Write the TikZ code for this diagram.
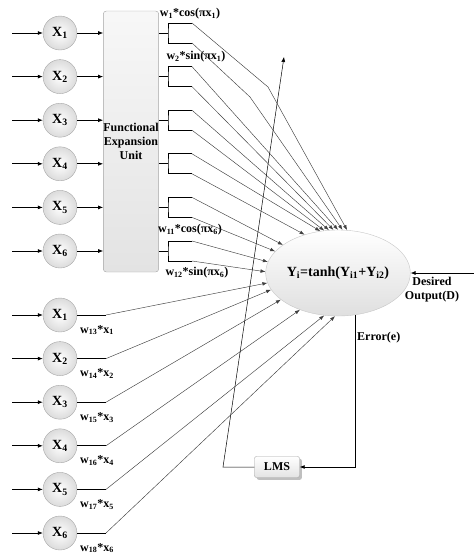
\documentclass[tikz,border=0pt]{standalone}
\usepackage{fontspec}
\setmainfont{Liberation Serif}
\usetikzlibrary{shapes.geometric,positioning,arrows.meta,shadows}

\begin{document}
\begin{tikzpicture}[x=1pt,y=-1pt,
    inp/.style={circle,draw=gray!70,inner sep=0pt,minimum size=34pt,
      inner color=white,outer color=gray!28,font=\fontsize{14}{14}\selectfont\bfseries},
    arr/.style={-{Latex[length=5pt,width=4pt]},line width=.7pt},
    wline/.style={-{Latex[length=5pt,width=3.6pt]},line width=.45pt,draw=black!75},
    lbl/.style={font=\fontsize{12}{14}\selectfont\bfseries,inner sep=1pt}]
        \useasboundingbox (0,0) rectangle (474,555);

        % Functional expansion unit
        \node[draw=gray!70,rounded corners=3pt,top color=gray!6,bottom color=gray!22,
          minimum width=54pt,minimum height=261pt,inner sep=0pt,align=center,
          font=\fontsize{12}{14}\selectfont\bfseries] (feu) at (131,141.5)
          {Functional\\Expansion\\Unit};

        % Output node
        \node[ellipse,draw=gray!45,minimum width=140pt,minimum height=86pt,inner sep=0pt,
          top color=white,bottom color=gray!25,font=\fontsize{14}{14}\selectfont\bfseries]
          (yi) at (338,273) {Y\textsubscript{i}=tanh(Y\textsubscript{i1}+Y\textsubscript{i2})};

        % Upper inputs and their expansions
          \foreach \i in {1,...,6} {
            \pgfmathsetmacro{\yy}{33+43.6*(\i-1)}
            \node[inp] (x\i) at (60,\yy) {X\textsubscript{\i}};
            \coordinate (in\i) at (12,\yy);
            \coordinate (f\i)  at (168,\yy);
            \coordinate (fa\i) at (192,\yy-10);
            \coordinate (fb\i) at (192,\yy+10);
            \draw[arr] (in\i) -- (x\i);
            \draw[arr] (x\i) -- (x\i -| feu.west);
            \draw[line width=.7pt] (x\i -| feu.east) -- (f\i);
            \draw[line width=.7pt] (fa\i) -| (f\i) |- (fb\i);
          }
          \node[lbl] (w1)  at (190,14)  {w\textsubscript{1}*cos(πx\textsubscript{1})};
          \node[lbl] (w2)  at (196,57)  {w\textsubscript{2}*sin(πx\textsubscript{1})};
          \node[lbl] (w11) at (190,230) {w\textsubscript{11}*cos(πx\textsubscript{6})};
          \node[lbl] (w12) at (197,273) {w\textsubscript{12}*sin(πx\textsubscript{6})};

          % Weighted expansions into the output node
          \coordinate (bend1) at (268,87);
          \coordinate (bend2) at (250,97);
          \draw[wline] (fa1) -- (bend1) -- (yi.78);
          \draw[wline] (fb1) -- (bend2) -- (yi.84);
          \foreach \f/\a in {a2/90,b2/96,a3/102,b3/108,a4/113,b4/131,a5/153,b5/161,a6/171,b6/179} {
            \draw[wline] (f\f) -- (yi.\a);
          }

        % Lower inputs, linear part
          \foreach \i/\a in {1/188,2/194,3/205,4/224,5/252,6/266} {
            \pgfmathsetmacro{\yy}{315+43.6*(\i-1)}
            \pgfmathtruncatemacro{\k}{12+\i}
            \node[inp] (z\i) at (60,\yy) {X\textsubscript{\i}};
            \coordinate (zin\i) at (12,\yy);
            \coordinate (zb\i)  at (106,\yy);
            \draw[arr] (zin\i) -- (z\i);
            \draw[line width=.7pt] (z\i) -- (zb\i);
            \draw[wline] (zb\i) -- (yi.\a);
            \node[lbl] (wl\k) at (97,\yy+15) {w\textsubscript{\k}*x\textsubscript{\i}};
          }

        % Desired output and error
        \coordinate (dsrc) at (474,273);
        \draw[arr] (dsrc) -- (yi.east);
        \node[lbl,align=center] (dlbl) at (432,290) {Desired\\Output(D)};

        \node[draw=gray!70,rounded corners=2pt,top color=white,bottom color=gray!22,drop shadow,
          minimum width=45pt,minimum height=21pt,inner sep=0pt,
          font=\fontsize{12}{12}\selectfont\bfseries] (lms) at (277,467) {LMS};
        \draw[arr] (yi.292) |- (lms.east);
        \node[lbl,anchor=west] (err) at (356,338) {Error(e)};

        % Weight update path
        \coordinate (fbk)   at (223,467);
        \coordinate (fbtip) at (284,57);
        \draw[arr,line width=.5pt] (lms.west) -- (fbk) -- (fbtip);
\end{tikzpicture}
\end{document}
